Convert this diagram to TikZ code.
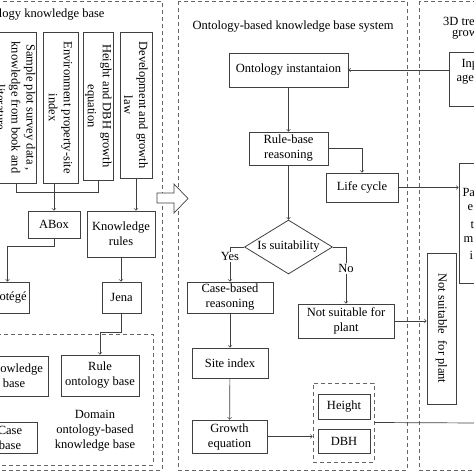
\documentclass[tikz,border=0pt]{standalone}
\usepackage{fontspec}
\setmainfont{Liberation Serif}
\usetikzlibrary{shapes.geometric}

\begin{document}
\begin{tikzpicture}[x=1pt, y=-1pt,
    font=\fontsize{12.5}{15}\selectfont,
    box/.style={draw=black!75, line width=0.8pt, align=center, inner sep=1pt},
    vbox/.style={box, rotate=-90},
    dashframe/.style={draw=black!60, line width=0.8pt, dash pattern=on 4pt off 3pt},
    link/.style={draw=black!75, line width=0.7pt},
    arr/.style={link, ->}]

    \useasboundingbox (0,0) rectangle (474,474);
    \clip (0,0) rectangle (474,474);


    \draw[dashframe] (-5,1) rectangle (162,470);
    \draw[dashframe] (178,1) rectangle (407,470);
    \draw[dashframe] (419,1) rectangle (490,470);

    \node[dashframe, minimum width=158pt, minimum height=131pt] (dframe) at (74,399.5) {};
    \node[dashframe, minimum width=61pt, minimum height=79pt] (hdframe) at (343.5,422.5) {};

    \draw[link, fill=white] (157,193) -- (174,193) -- (174,184) -- (188,198.5)
        -- (174,213) -- (174,203) -- (157,203) -- cycle;


    \node[anchor=east] (kbtitle) at (108,15) {Ontology knowledge base};

    \node[vbox, minimum width=151pt, minimum height=39pt] (samplebox) at (16,107.5)
        {Sample plot survey data ,\\knowledge from book and\\literature};
    \node[vbox, minimum width=151pt, minimum height=35pt] (envbox) at (60.5,107.5)
        {Environment property-site\\index};
    \node[vbox, minimum width=148pt, minimum height=30pt] (heightbox) at (98.5,106)
        {Height and DBH growth\\equation};
    \node[vbox, minimum width=146pt, minimum height=32pt] (devbox) at (136,105)
        {Development and growth\\law};

    \node[box, minimum width=52pt, minimum height=27pt] (abox) at (54,224.5) {ABox};
    \node[box, minimum width=68pt, minimum height=46pt] (krules) at (121,234) {Knowledge\\rules};
    \node[box, minimum width=43pt, minimum height=31pt] (protege) at (7.5,297.5) {Protégé};
    \node[box, minimum width=39pt, minimum height=31pt] (jena) at (121.5,297.5) {Jena};

    \node[box, minimum width=68pt, minimum height=40pt] (kbase) at (14,376) {Knowledge\\base};
    \node[box, minimum width=78pt, minimum height=41pt] (ruleonto) at (100,375.5) {Rule\\ontology base};
    \node[box, minimum width=54pt, minimum height=31pt] (casebase) at (10,437.5) {Case\\base};
    \node[align=center] (domain) at (95,431) {Domain\\ontology-based\\knowledge base};


    \node[anchor=west] (systitle) at (189,27) {Ontology-based knowledge base system};

    \node[box, minimum width=119pt, minimum height=34pt] (oinst) at (288.5,70) {Ontology instantaion};
    \node[box, minimum width=79pt, minimum height=33pt] (rbr) at (288.5,148.5) {Rule-base\\reasoning};
    \node[box, minimum width=72pt, minimum height=29pt] (life) at (362,187.5) {Life cycle};
    \node[diamond, draw=black!75, line width=0.8pt, aspect=1.63, inner sep=0pt,
        minimum width=88pt, minimum height=54pt] (suit) at (288.5,247) {Is suitability};
    \node[box, minimum width=86pt, minimum height=31pt] (cbr) at (230,297.5) {Case-based\\reasoning};
    \node[box, minimum width=96pt, minimum height=34pt] (notsuit) at (346,321) {Not suitable for\\plant};
    \node[box, minimum width=76pt, minimum height=30pt] (siteidx) at (230,363) {Site index};
    \node[box, minimum width=75pt, minimum height=33pt] (groweq) at (229.5,436.5) {Growth\\equation};
    \node[box, minimum width=52pt, minimum height=25pt] (height) at (344,406.5) {Height};
    \node[box, minimum width=52pt, minimum height=24pt] (dbh) at (344,441) {DBH};


    \node[anchor=west, inner sep=1pt] (tdtitle) at (442,21) {3D tre};
    \node[anchor=west, inner sep=1pt] (tdtitleb) at (451,35) {grow};

    \node[box, minimum width=42pt, minimum height=54pt] (inp) at (470,79) {};
    \node[anchor=west] (inptext) at (458,65) {Inp};
    \node[anchor=west] (inptextb) at (453,80) {age};

    \node[box, minimum width=30pt, minimum height=120pt] (pa) at (474,223) {};
    \node[anchor=west] (patext) at (459,192) {Pa};
    \node[anchor=west] (patextb) at (464,208) {e};
    \node[anchor=west] (patextc) at (467,225) {t};
    \node[anchor=west] (patextd) at (460,240) {m};
    \node[anchor=west] (patexte) at (466,255) {i};

    \node[vbox, minimum width=151pt, minimum height=29pt] (nsvert) at (441.5,328.5) {Not suitable \ for plant};

    \coordinate (rightend) at (480,423);


    \draw[link] (samplebox.east) -- ++(0,9) -| (heightbox.east);
    \draw[arr] (envbox.east -| abox.north) to (abox.north);
    \draw[arr] (devbox.east) to (devbox.east |- krules.north);
    \draw[arr] (abox.south) -- ++(0,8) -| (protege.north);
    \draw[arr] (krules.south) to (krules.south |- jena.north);
    \draw[arr] (jena.south) -- ++(0,19) -| (ruleonto.north);

    \draw[arr] (inp.west |- oinst.east) to (oinst.east);
    \draw[arr] (oinst) to (rbr);
    \draw[arr] (rbr) to (suit);
    \draw[arr] (rbr.east) -| (life.north);
    \draw[arr] (life.east) to (life.east -| pa.west);
    \draw[arr] (suit.west) -| node[pos=0.64, fill=white, inner sep=1pt] (yes) {Yes} (cbr.north);
    \draw[arr] (suit.east) -| node[pos=0.69, fill=white, inner sep=1pt] (no) {No} (notsuit.north);
    \draw[arr] (notsuit.east) to (notsuit.east -| nsvert.south);
    \draw[arr] (cbr) to (siteidx);
    \draw[arr] (siteidx) to (groweq);
    \draw[arr] (groweq.east) to (groweq.east -| hdframe.west);
    \draw[link] (hdframe.east) to (rightend);
\end{tikzpicture}
\end{document}
